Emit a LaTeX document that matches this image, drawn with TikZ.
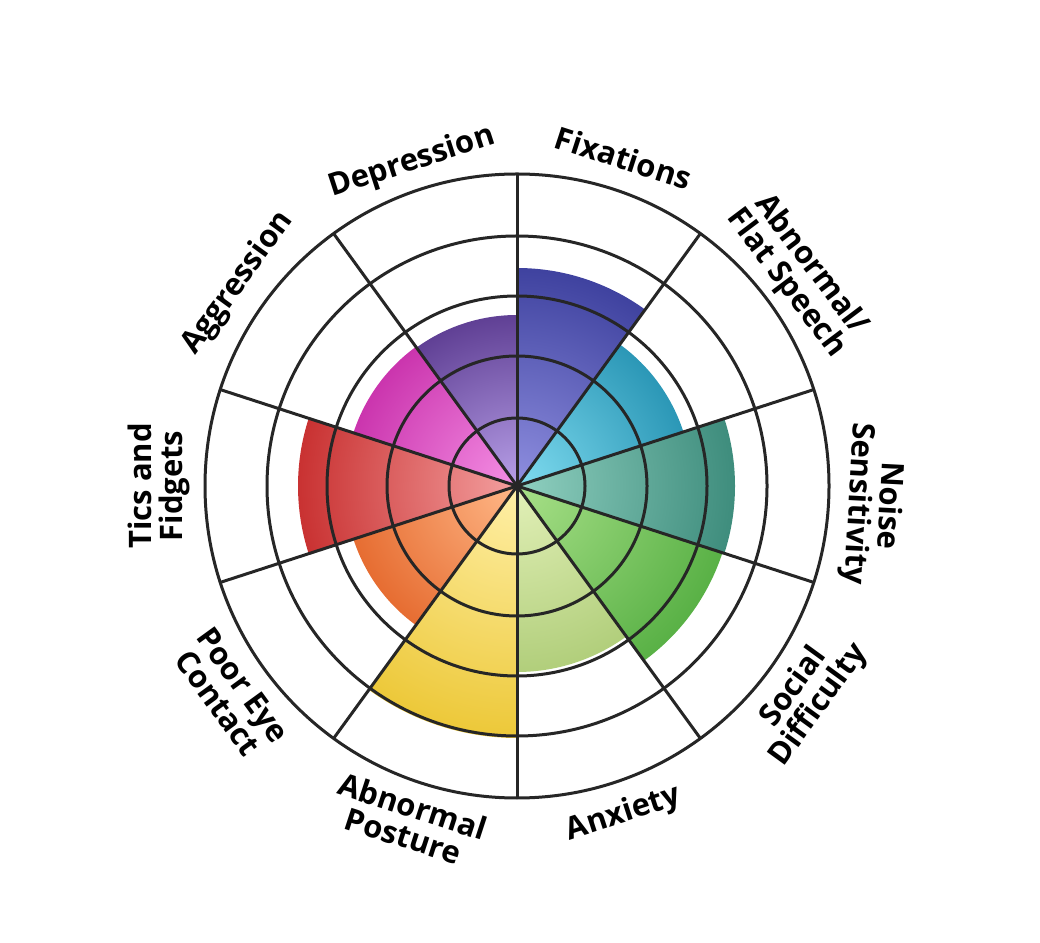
\documentclass[tikz,border=0pt]{standalone}
\usepackage{fontspec}
\setmainfont{Open Sans}
\usetikzlibrary{calc}
\begin{document}
\begin{tikzpicture}[x=1pt,y=1pt,
  grid/.style={draw=black!85,line width=3pt},
  lab/.style={font=\fontsize{31}{31}\selectfont\bfseries,align=center,inner sep=0pt}]
\useasboundingbox (0,0) rectangle (1040,942);
\coordinate (C) at (517,456);
% wedges: start angle, end angle, radius, inner color, outer color
\foreach \a/\b/\r/\ci/\co in {
  54/90/218/8F8FE0/2B2F8F,
  18/54/175/80DCF0/1686A8,
  -18/18/218/90D0C0/2A7C6C,
  -54/-18/216/A8E088/45A535,
  -90/-54/186/E2F0B8/A5C66C,
  -126/-90/252/FFF0A8/E8BE1C,
  -162/-126/172/FFB888/E05A1C,
  162/198/219/F4A0A0/BE1616,
  126/162/172/F590E5/C01EA0,
  90/126/171/B8A0E8/4A2880}{
  \definecolor{ci}{HTML}{\ci}\definecolor{co}{HTML}{\co}
  \begin{scope}
    \clip (C) -- ++(\a:\r) arc[start angle=\a,end angle=\b,radius=\r] -- cycle;
    \shade[inner color=ci,outer color=co] (C) circle (\r*1.25);
  \end{scope}
}
\foreach \r in {68,130,190,250,312} \draw[grid] (C) circle (\r);
\foreach \k in {0,...,9} \draw[grid] (C) -- ++(90+36*\k:312);
% labels
\node[lab,rotate=18] (l1) at ($(C)+(108:340)$) {Depression};
\node[lab,rotate=-18] (l2) at ($(C)+(72:345)$) {Fixations};
\node[lab,rotate=-53] (l3) at ($(C)+(37:352)$) {Abnormal/\\Flat Speech};
\node[lab,rotate=-93] (l4) at ($(C)+(-3:356)$) {Noise\\Sensitivity};
\node[lab,rotate=54] (l5) at ($(C)+(-36:358)$) {Social\\Difficulty};
\node[lab,rotate=18] (l6) at ($(C)+(-72:345)$) {Anxiety};
\node[lab,rotate=-18] (l7) at ($(C)+(-108:352)$) {Abnormal\\Posture};
\node[lab,rotate=-54] (l8) at ($(C)+(-144:354)$) {Poor Eye\\Contact};
\node[lab,rotate=90] (l9) at ($(C)+(180:358)$) {Tics and\\Fidgets};
\node[lab,rotate=54] (l10) at ($(C)+(144:345)$) {Aggression};
\end{tikzpicture}
\end{document}
